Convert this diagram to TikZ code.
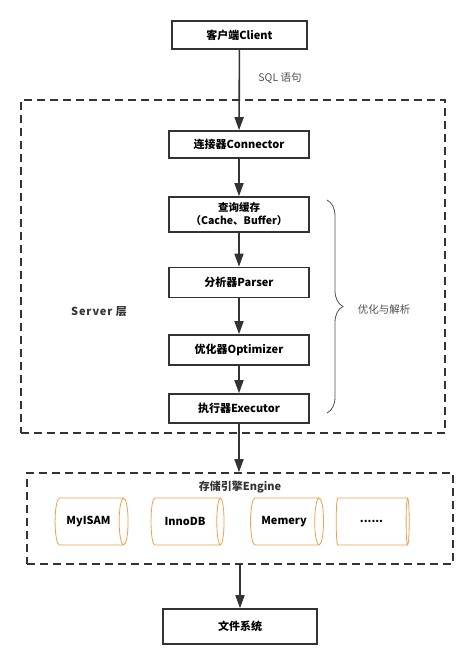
\documentclass[tikz,border=0pt]{standalone}
\usepackage{fontspec}
\setmainfont{Noto Sans CJK SC}
\usetikzlibrary{arrows.meta,shapes.geometric,decorations.pathreplacing}
\definecolor{ln}{RGB}{51,51,51}
\definecolor{cyl}{RGB}{242,160,80}
\definecolor{txt}{RGB}{80,80,80}

\begin{document}
\begin{tikzpicture}[x=1pt,y=-1pt,>={Triangle[width=9pt,length=13pt]},
box/.style ={rectangle, draw=ln, line width=1.6pt, fill=white, align=center, minimum width=140pt, font=\fontsize{11}{14}\selectfont\bfseries},
frame/.style={rectangle, draw=ln, line width=1.6pt, dash pattern=on 8pt off 5pt},
db/.style={cylinder, draw=cyl, line width=0.8pt, fill=white, aspect=0.7, minimum height=73pt, minimum width=47pt, inner sep=1pt, font=\fontsize{11}{14}\selectfont\bfseries},
note/.style={text=txt, font=\fontsize{10.5}{13}\selectfont},
link/.style={draw=ln, line width=1.6pt, ->}]

\useasboundingbox (0,0) rectangle (474,666);

\draw (233,266.5) node[frame, minimum width=424pt, minimum height=333pt] (Srv) {};
\draw (240,518.5) node[frame, minimum width=426pt, minimum height=91pt] (Eng) {};

\draw (239.5,35) node[box, minimum width=135pt, minimum height=28pt] (Cli) {客户端Client};
\draw (280,78) node[note] (Sql) {SQL 语句};
\draw (239,144.5) node[box, minimum height=27pt] (Con) {连接器Connector};
\draw (239,214.5) node[box, minimum height=35pt, font=\fontsize{10.5}{13}\selectfont\bfseries] (Cac) {查询缓存\\（Cache、Buffer）};
\draw (239,282.5) node[box, minimum height=30pt] (Par) {分析器Parser};
\draw (239,350) node[box, minimum height=30pt] (Opt) {优化器Optimizer};
\draw (239,408.5) node[box, minimum height=29pt] (Exe) {执行器Executor};
\draw (99,312) node[font=\fontsize{11}{14}\selectfont\bfseries\addfontfeature{LetterSpace=8}, text=ln] (SrvL) {Server 层};
\draw (384,310) node[note] (Opl) {优化与解析};

\draw (240,487) node[font=\fontsize{11}{14}\selectfont\bfseries, text=ln] (EngL) {存储引擎Engine};
\draw (88.5,521.5) node[db] (My) {MyISAM};
\draw (185,521.5) node[db] (Inn) {InnoDB};
\draw (284,521.5) node[db] (Mem) {Memery};
\draw (371.5,521.5) node[db] (Dot) {......};

\draw (240,626.5) node[box, minimum width=154pt, minimum height=35pt] (Fil) {文件系统};

\coordinate (BrT) at (327,200);
\coordinate (BrB) at (327,413);
\draw[draw=txt, line width=0.8pt, decorate, decoration={brace, amplitude=16pt}] (BrT) -- (BrB);

\draw[link] (Cli)--(Con);
\draw[link] (Con)--(Cac);
\draw[link] (Cac)--(Par);
\draw[link] (Par)--(Opt);
\draw[link] (Opt)--(Exe);
\draw[link] (Exe)--(Exe |- Eng.north);
\draw[link] (Fil |- Eng.south)--(Fil);

\end{tikzpicture}
\end{document}
